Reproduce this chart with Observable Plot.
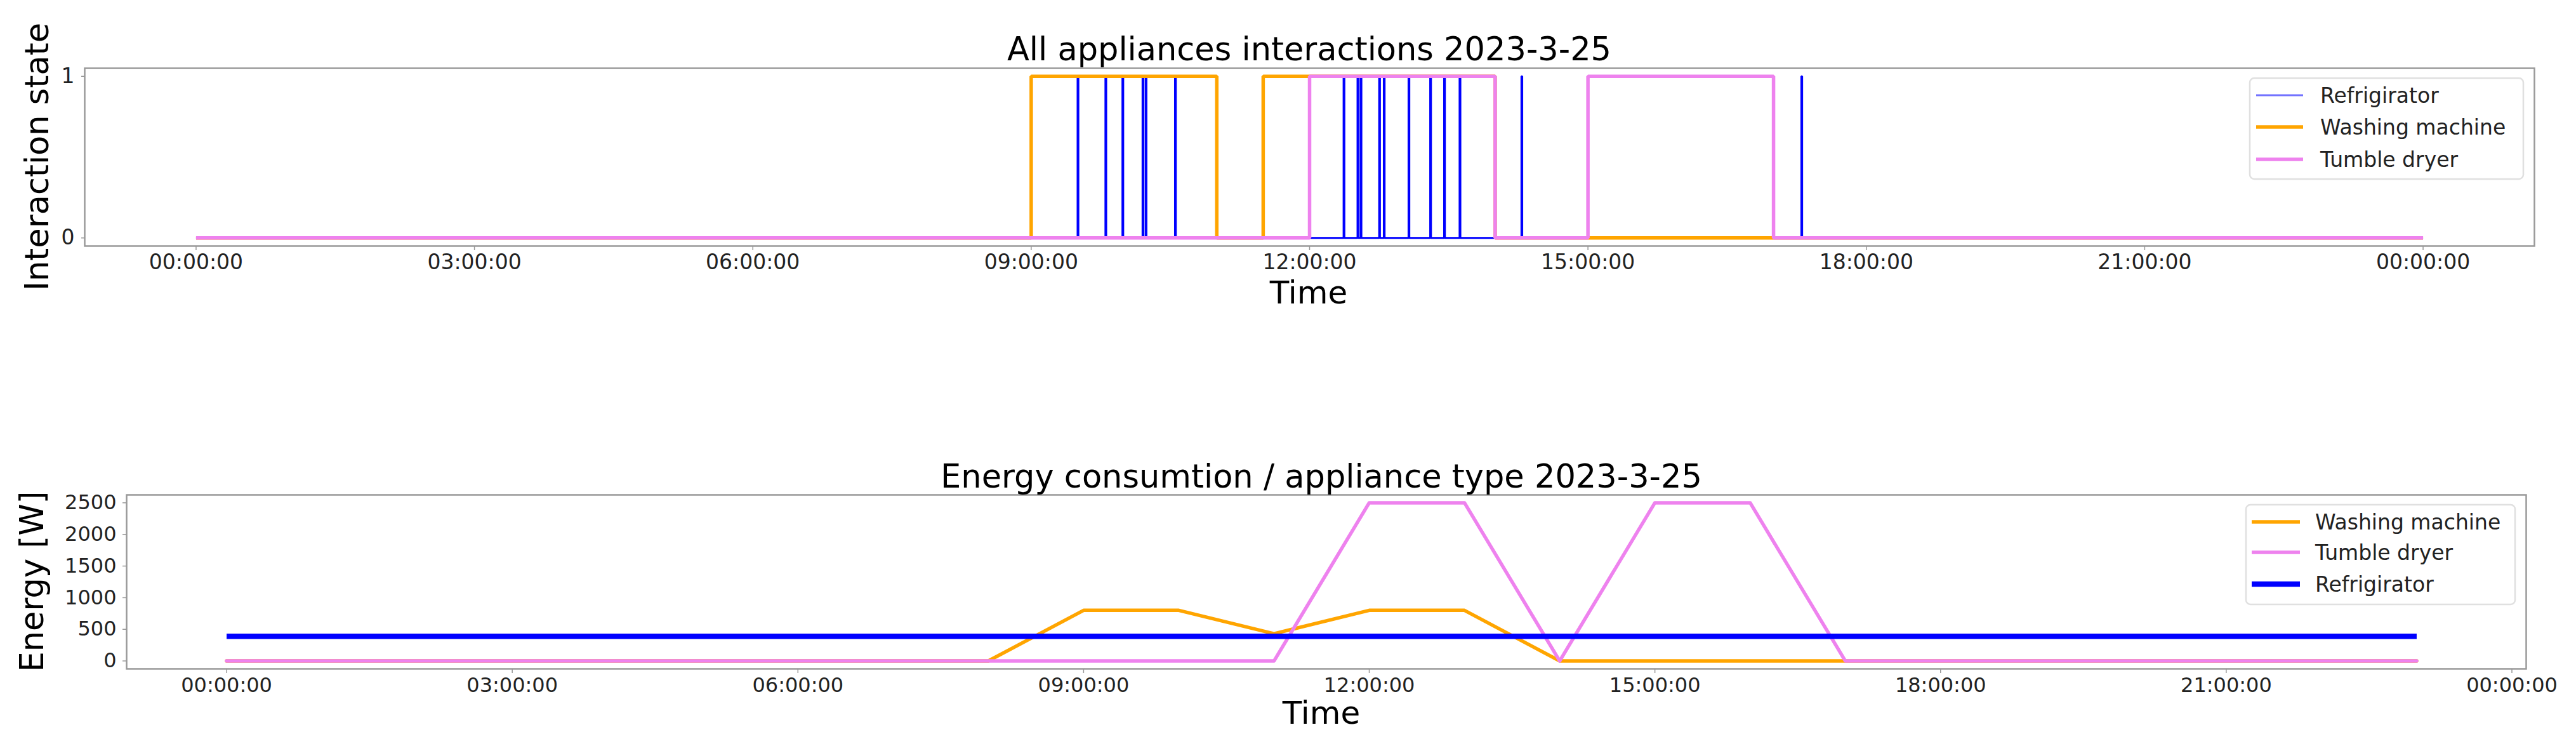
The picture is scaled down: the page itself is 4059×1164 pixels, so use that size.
<!DOCTYPE html>
<html>
<head>
<meta charset="utf-8">
<script src="https://cdn.jsdelivr.net/npm/d3@7"></script>
<script src="https://cdn.jsdelivr.net/npm/@observablehq/plot@0.6"></script>
<style>
  html, body { margin: 0; padding: 0; background: #fff; }
  #page { position: relative; width: 4059px; height: 1164px; overflow: hidden; font-family: "DejaVu Sans", sans-serif; background: #fff; }
  #topChart { position: absolute; left: 0; top: 0; }
  #bottomChart { position: absolute; left: 0; top: 680px; }
  #overlay { position: absolute; left: 0; top: 0; pointer-events: none; }
</style>
</head>
<body>
<div id="page">
  <div id="topChart"></div>
  <div id="bottomChart"></div>
  <svg id="overlay" width="4059" height="1164" xmlns="http://www.w3.org/2000/svg"></svg>
</div>
<script>
// ---------------- data ----------------
const dayLabel = "2023-3-25";
const tickTimes = ["00:00", "03:00", "06:00", "09:00", "12:00", "15:00", "18:00", "21:00", "24:00"];

// Top chart: interaction states (step changes)
const washingStateTimes = ["00:00", "09:00", "11:00", "11:30", "14:00", "24:00"];
const washingStates     = [0, 1, 0, 1, 0, 0];
const dryerStateTimes   = ["00:00", "12:00", "14:00", "15:00", "17:00", "24:00"];
const dryerStates       = [0, 1, 0, 1, 0, 0];
const fridgeOnTimes  = ["09:30:00", "09:48:00", "09:59:00", "10:12:00", "10:14:00", "10:33:00",
                        "12:22:00", "12:31:00", "12:33:00", "12:45:00", "12:48:00", "13:04:00",
                        "13:18:00", "13:27:00", "13:37:00", "14:17:00", "17:18:00"];
const fridgeOffTimes = ["09:30:30", "09:48:30", "09:59:30", "10:12:30", "10:14:30", "10:33:30",
                        "12:22:30", "12:31:30", "12:33:30", "12:45:30", "12:48:30", "13:04:30",
                        "13:18:30", "13:27:30", "13:37:30", "14:17:30", "17:18:30"];
const fridgeDayStart = "00:00";
const fridgeDayEnd = "24:00";

// Bottom chart: hourly energy [W]
const energyHours   = ["00:00","01:00","02:00","03:00","04:00","05:00","06:00","07:00","08:00","09:00","10:00","11:00",
                       "12:00","13:00","14:00","15:00","16:00","17:00","18:00","19:00","20:00","21:00","22:00","23:00"];
const washingEnergy = [0, 0, 0, 0, 0, 0, 0, 0, 0, 800, 800, 430, 800, 800, 0, 0, 0, 0, 0, 0, 0, 0, 0, 0];
const dryerEnergy   = [0, 0, 0, 0, 0, 0, 0, 0, 0, 0, 0, 0, 2500, 2500, 0, 2500, 2500, 0, 0, 0, 0, 0, 0, 0];
const fridgeEnergy  = [390, 390, 390, 390, 390, 390, 390, 390, 390, 390, 390, 390,
                       390, 390, 390, 390, 390, 390, 390, 390, 390, 390, 390, 390];
const energyTicks = [0, 500, 1000, 1500, 2000, 2500];

// ---------------- helpers ----------------
function at(t) {
  const [h, m, s = 0] = t.split(":").map(Number);
  return new Date(Date.UTC(2023, 2, 25, h, m, s));
}
const fmt = d3.utcFormat("%H:%M:%S");
const xTicks = tickTimes.map(at);

const washingData = washingStateTimes.map((t, i) => ({t: at(t), v: washingStates[i]}));
const dryerData = dryerStateTimes.map((t, i) => ({t: at(t), v: dryerStates[i]}));
const fridgeData = [{t: at(fridgeDayStart), v: 0}];
fridgeOnTimes.forEach((t, i) => {
  fridgeData.push({t: at(t), v: 1});
  fridgeData.push({t: at(fridgeOffTimes[i]), v: 0});
});
fridgeData.push({t: at(fridgeDayEnd), v: 0});

const energyRows = (vals) => energyHours.map((t, i) => ({t: at(t), v: vals[i]}));

const COLORS = {fridge: "blue", washing: "orange", dryer: "violet"};
const SPINE = "#999";
const TXT = "#222";

// ---------------- top chart ----------------
const topPlot = Plot.plot({
  width: 4059, height: 440,
  marginLeft: 133, marginRight: 66, marginTop: 107, marginBottom: 53,
  style: {fontFamily: "DejaVu Sans", background: "transparent", overflow: "visible"},
  x: {type: "utc", domain: [d3.utcMinute.offset(at("00:00"), -72), d3.utcMinute.offset(at("24:00"), 72)]},
  y: {domain: [-0.05, 1.05]},
  marks: [
    Plot.frame({stroke: SPINE, strokeWidth: 2.5}),
    Plot.axisX({ticks: xTicks, tickFormat: fmt, tickSize: 7, tickPadding: 6, fontSize: 33,
                stroke: SPINE, strokeWidth: 1.5, fill: TXT, label: null}),
    Plot.axisY({ticks: [0, 1], tickFormat: d => String(d), tickSize: 5, tickPadding: 11, fontSize: 33,
                stroke: SPINE, strokeWidth: 1.5, fill: TXT, label: null}),
    Plot.line(fridgeData, {x: "t", y: "v", curve: "step-after", stroke: COLORS.fridge, strokeWidth: 3,
                           strokeLinejoin: "miter", strokeLinecap: "butt"}),
    Plot.line(washingData, {x: "t", y: "v", curve: "step-after", stroke: COLORS.washing, strokeWidth: 5.5,
                            strokeLinejoin: "miter", strokeLinecap: "butt"}),
    Plot.line(dryerData, {x: "t", y: "v", curve: "step-after", stroke: COLORS.dryer, strokeWidth: 5.5,
                          strokeLinejoin: "miter", strokeLinecap: "butt"})
  ]
});
document.getElementById("topChart").appendChild(topPlot);

// ---------------- bottom chart ----------------
const bottomPlot = Plot.plot({
  width: 4059, height: 484,
  marginLeft: 199, marginRight: 79, marginTop: 99, marginBottom: 111,
  style: {fontFamily: "DejaVu Sans", background: "transparent", overflow: "visible"},
  x: {type: "utc", domain: [d3.utcMinute.offset(at("00:00"), -63), d3.utcMinute.offset(at("23:00"), 69)]},
  y: {domain: [-125, 2625]},
  marks: [
    Plot.frame({stroke: SPINE, strokeWidth: 2.5}),
    Plot.axisX({ticks: xTicks, tickFormat: fmt, tickSize: 7, tickPadding: 7, fontSize: 32,
                stroke: SPINE, strokeWidth: 1.5, fill: TXT, label: null}),
    Plot.axisY({ticks: energyTicks, tickFormat: d => String(d), tickSize: 6, tickPadding: 10, fontSize: 32,
                stroke: SPINE, strokeWidth: 1.5, fill: TXT, label: null}),
    Plot.line(energyRows(washingEnergy), {x: "t", y: "v", stroke: COLORS.washing, strokeWidth: 5.5}),
    Plot.line(energyRows(dryerEnergy), {x: "t", y: "v", stroke: COLORS.dryer, strokeWidth: 5.5}),
    Plot.line(energyRows(fridgeEnergy), {x: "t", y: "v", stroke: COLORS.fridge, strokeWidth: 8.5, strokeLinecap: "butt"})
  ]
});
document.getElementById("bottomChart").appendChild(bottomPlot);

// ---------------- titles, axis labels, legends ----------------
const ov = d3.select("#overlay").style("font-family", "DejaVu Sans");
function label(x, y, text, size, opts = {}) {
  const t = ov.append("text").attr("x", x).attr("y", y).attr("font-size", size)
    .attr("fill", opts.fill || "#000").attr("text-anchor", opts.anchor || "middle").text(text);
  if (opts.rotate) t.attr("x", null).attr("y", null).attr("transform", `translate(${x},${y}) rotate(-90)`);
  return t;
}
label(2063, 95, `All appliances interactions ${dayLabel}`, 51);
label(2062, 478, "Time", 50);
label(76, 247, "Interaction state", 51, {rotate: true});
label(2082, 768, `Energy consumtion / appliance type ${dayLabel}`, 51);
label(2082, 1140, "Time", 50);
label(68, 916, "Energy [W]", 51, {rotate: true});

function legend(box, entries, size) {
  ov.append("rect").attr("x", box.x).attr("y", box.y).attr("width", box.w).attr("height", box.h)
    .attr("rx", 7).attr("fill", "#fff").attr("fill-opacity", 0.8).attr("stroke", "#e0e0e0").attr("stroke-width", 2.5);
  entries.forEach(e => {
    ov.append("line").attr("x1", box.hx1).attr("x2", box.hx2).attr("y1", e.y).attr("y2", e.y)
      .attr("stroke", e.color).attr("stroke-opacity", e.opacity || 1).attr("stroke-width", e.w);
    ov.append("text").attr("x", box.tx).attr("y", e.y).attr("dy", "0.36em").attr("font-size", size)
      .attr("fill", TXT).attr("text-anchor", "start").text(e.name);
  });
}
legend({x: 3545, y: 123, w: 431, h: 159, hx1: 3555, hx2: 3629, tx: 3656}, [
  {name: "Refrigirator", color: COLORS.fridge, w: 3, y: 150, opacity: 0.55},
  {name: "Washing machine", color: COLORS.washing, w: 5.5, y: 200},
  {name: "Tumble dryer", color: COLORS.dryer, w: 5.5, y: 251}
], 33);
legend({x: 3539, y: 795, w: 424, h: 157, hx1: 3548, hx2: 3624, tx: 3648}, [
  {name: "Washing machine", color: COLORS.washing, w: 5.5, y: 822},
  {name: "Tumble dryer", color: COLORS.dryer, w: 5.5, y: 870},
  {name: "Refrigirator", color: COLORS.fridge, w: 8.5, y: 920}
], 33);
</script>
</body>
</html>
